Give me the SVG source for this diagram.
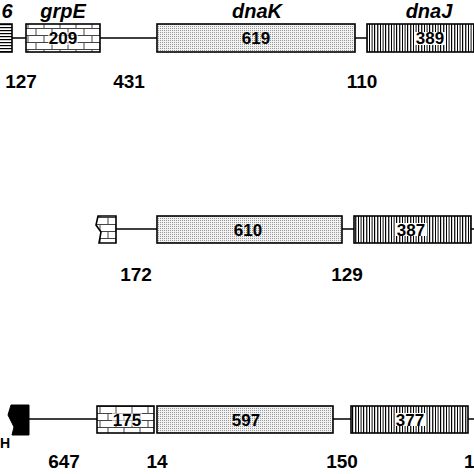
<svg xmlns="http://www.w3.org/2000/svg" width="474" height="474" viewBox="0 0 474 474">
<defs>
<pattern id="hl" width="4" height="3" patternUnits="userSpaceOnUse"><rect width="4" height="3" fill="#fff"/><rect y="0" width="4" height="1.2" fill="#000"/></pattern>
<pattern id="brick" width="16" height="14" patternUnits="userSpaceOnUse"><rect width="16" height="14" fill="#fff"/><path d="M0 0.5H16M0 7.5H16M4 0V7M12 7V14" stroke="#444" stroke-width="1" fill="none"/></pattern>
<pattern id="dots" width="2" height="2" patternUnits="userSpaceOnUse"><rect width="2" height="2" fill="#f2f2f2"/><rect width="1" height="1" fill="#999"/></pattern>
<pattern id="vl" width="11" height="4" patternUnits="userSpaceOnUse"><rect width="11" height="4" fill="#fff"/><rect x="0" width="1.2" height="4" fill="#000"/><rect x="3" width="1.4" height="4" fill="#222"/><rect x="6" width="1" height="4" fill="#000"/><rect x="8.5" width="1.2" height="4" fill="#333"/></pattern>
</defs>
<style>
.box{stroke:#000;stroke-width:1.6}
.lbl{font-family:"Liberation Sans",Arial,sans-serif;font-weight:bold;font-size:17px;text-anchor:middle;fill:#000}
.gene{font-family:"Liberation Sans",Arial,sans-serif;font-weight:bold;font-style:italic;font-size:20px;text-anchor:middle;fill:#000}
.num{font-family:"Liberation Sans",Arial,sans-serif;font-weight:bold;font-size:19px;text-anchor:middle;fill:#000}
.bg{fill:#fff}
.ln{stroke:#000;stroke-width:1.4;fill:none}
</style>
<rect width="474" height="474" fill="#fff"/>
<g id="connectors">
<path class="ln" d="M12 38H26M100 38H157M355 38H367"/>
<path class="ln" d="M116 229H157M342 229H354M471 229H474"/>
<path class="ln" d="M29 419H97M333 419H351M468 419H474"/>
</g>
<g id="r1-left"><rect class="box" x="-2" y="24" width="14" height="28" fill="url(#hl)"/><text class="gene" x="7" y="18">6</text></g>
<g id="r1-grpE"><rect class="box" x="26" y="24" width="74" height="28" fill="url(#brick)"/><rect class="bg" x="48" y="32" width="30" height="13" opacity="0.6"/><text class="lbl" x="63" y="44">209</text><text class="gene" x="63" y="18">grpE</text></g>
<g id="r1-dnaK"><rect class="box" x="157" y="24" width="198" height="28" fill="url(#dots)"/><text class="lbl" x="256" y="44">619</text><text class="gene" x="257" y="18">dnaK</text></g>
<g id="r1-dnaJ"><rect class="box" x="367" y="24" width="110" height="28" fill="url(#vl)"/><rect class="bg" x="415" y="32" width="30" height="13"/><text class="lbl" x="430" y="44">389</text><text class="gene" x="429" y="18">dnaJ</text></g>
<g id="r1-nums"><text class="num" x="21" y="88">127</text><text class="num" x="129" y="88">431</text><text class="num" x="362" y="88">110</text></g>
<g id="r2-frag"><path class="box" d="M98 216H116V243H99L101 232L96 225Z" fill="url(#brick)"/></g>
<g id="r2-dnaK"><rect class="box" x="157" y="216" width="185" height="27" fill="url(#dots)"/><text class="lbl" x="248" y="236">610</text></g>
<g id="r2-dnaJ"><rect class="box" x="354" y="216" width="117" height="27" fill="url(#vl)"/><rect class="bg" x="396" y="223" width="31" height="13"/><text class="lbl" x="411" y="236">387</text></g>
<g id="r2-nums"><text class="num" x="136" y="281">172</text><text class="num" x="347" y="281">129</text></g>
<g id="r3-frag"><path d="M11 405H29V435H12L14 427L8 415Z" fill="#000" stroke="#000" stroke-width="1"/><text class="num" x="0" y="448" style="text-anchor:start;font-size:14px">H</text></g>
<g id="r3-grpE"><rect class="box" x="97" y="406" width="57" height="27" fill="url(#brick)"/><rect class="bg" x="112" y="413" width="30" height="13" opacity="0.6"/><text class="lbl" x="127" y="426">175</text></g>
<g id="r3-dnaK"><rect class="box" x="157" y="406" width="176" height="27" fill="url(#dots)"/><text class="lbl" x="246" y="426">597</text></g>
<g id="r3-dnaJ"><rect class="box" x="351" y="406" width="117" height="27" fill="url(#vl)"/><rect class="bg" x="395" y="413" width="31" height="13"/><text class="lbl" x="410" y="426">377</text></g>
<g id="r3-nums"><text class="num" x="64" y="468">647</text><text class="num" x="157" y="468">14</text><text class="num" x="342" y="468">150</text><text class="num" x="464" y="468" style="text-anchor:start">1</text></g>
</svg>
